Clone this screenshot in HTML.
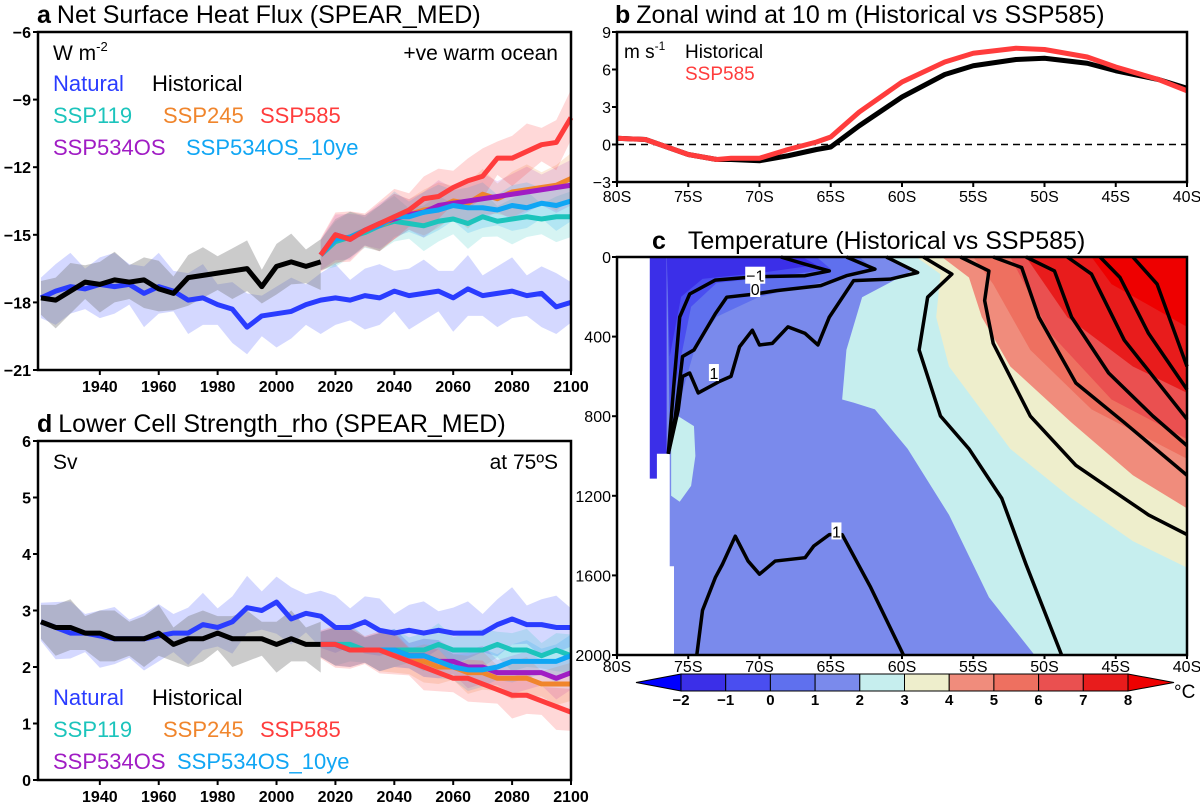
<!DOCTYPE html>
<html><head><meta charset="utf-8"><style>
html,body{margin:0;padding:0;background:#fff;}
svg{display:block;font-family:"Liberation Sans",Arial,sans-serif;}
</style></head><body>
<svg id="fig" width="1200" height="802" viewBox="0 0 1200 802" xmlns="http://www.w3.org/2000/svg">
<g id="pa"></g>
<g id="pd"></g>
<g id="pb"></g>
<g id="pc"></g>
</svg>
<script>
// ---------- Panel a data (every 5 years) ----------
const aNatural=[-17.8,-17.5,-17.3,-17.4,-17.2,-17.3,-17.2,-17.6,-17.3,-17.5,-17.9,-17.8,-18.1,-18.3,-19.1,-18.6,-18.5,-18.4,-18.1,-17.9,-17.8,-17.9,-17.7,-17.8,-17.5,-17.7,-17.6,-17.5,-17.8,-17.4,-17.7,-17.6,-17.5,-17.7,-17.6,-18.2,-18.0];
const aHist=[-17.8,-17.9,-17.5,-17.1,-17.2,-17.0,-17.1,-17.0,-17.4,-17.6,-16.9,-16.8,-16.7,-16.6,-16.5,-17.3,-16.4,-16.2,-16.4,-16.2];
const aSSP585=[-15.9,-15.0,-15.2,-14.8,-14.5,-14.2,-13.9,-13.4,-13.3,-12.9,-12.6,-12.4,-11.6,-11.6,-11.3,-11.0,-10.9,-9.8];
const aSSP245=[-15.9,-15.2,-15.1,-14.8,-14.6,-14.3,-14.1,-13.9,-13.8,-13.5,-13.6,-13.2,-13.4,-13.1,-13.0,-12.9,-12.8,-12.5];
const aSSP119=[-15.9,-15.3,-15.1,-14.9,-14.6,-14.4,-14.5,-14.6,-14.4,-14.3,-14.5,-14.2,-14.4,-14.3,-14.2,-14.3,-14.2,-14.2];
const aSSP534=[-15.9,-15.0,-15.2,-14.8,-14.5,-14.3,-14.1,-14.0,-13.7,-13.6,-13.5,-13.4,-13.3,-13.2,-13.1,-13.0,-12.9,-12.8];
const aSSP534_10=[-15.9,-15.2,-15.1,-14.8,-14.6,-14.2,-14.2,-14.0,-13.9,-13.7,-13.8,-13.8,-13.9,-13.7,-13.8,-13.6,-13.7,-13.5];
const aYTicks=[-21,-18,-15,-12,-9,-6];
// ---------- Panel d data ----------
const dNatural=[2.8,2.7,2.6,2.6,2.55,2.5,2.5,2.5,2.55,2.6,2.6,2.75,2.7,2.8,3.05,3.0,3.15,2.85,2.95,2.9,2.7,2.7,2.8,2.65,2.6,2.65,2.6,2.65,2.6,2.6,2.6,2.75,2.85,2.75,2.75,2.7,2.7];
const dHist=[2.8,2.7,2.7,2.6,2.6,2.5,2.5,2.5,2.6,2.4,2.5,2.5,2.6,2.5,2.5,2.5,2.4,2.5,2.4,2.4];
const dSSP585=[2.4,2.4,2.3,2.3,2.3,2.2,2.1,2.0,1.9,1.8,1.8,1.7,1.6,1.5,1.5,1.4,1.3,1.2];
const dSSP245=[2.4,2.4,2.3,2.3,2.3,2.2,2.1,2.1,2.0,2.0,1.9,1.9,1.8,1.8,1.8,1.7,1.7,1.7];
const dSSP119=[2.4,2.4,2.4,2.3,2.3,2.3,2.3,2.3,2.4,2.3,2.3,2.3,2.4,2.3,2.3,2.2,2.3,2.2];
const dSSP534=[2.4,2.4,2.3,2.3,2.3,2.3,2.2,2.2,2.1,2.1,2.0,2.0,1.9,1.9,1.9,1.9,1.8,1.9];
const dSSP534_10=[2.4,2.4,2.3,2.3,2.3,2.3,2.2,2.2,2.1,2.0,1.95,1.95,2.0,2.1,2.1,2.1,2.1,2.2];
const dYTicks=[0,1,2,3,4,5,6];
const timeTicks=[1940,1960,1980,2000,2020,2040,2060,2080,2100];
// ---------- Panel b data ----------
const bLat=[-80,-78,-77,-75,-73,-72,-70,-68,-66,-65,-63,-60,-57,-55,-52,-50,-47,-45,-42,-40];
const bHist=[0.5,0.4,0.0,-0.8,-1.2,-1.2,-1.3,-0.9,-0.4,-0.2,1.5,3.8,5.6,6.3,6.8,6.9,6.5,5.9,5.2,4.5];
const bSSP585=[0.5,0.4,0.0,-0.8,-1.2,-1.1,-1.1,-0.4,0.2,0.6,2.6,5.0,6.6,7.3,7.7,7.6,7.0,6.2,5.2,4.3];
const bYTicks=[-3,0,3,6,9];
const latTicks=[-80,-75,-70,-65,-60,-55,-50,-45,-40];
// ---------- Panel c data ----------
const cLevels=[-2,-1,0,1,2,3,4,5,6,7,8];
const cColors=['#3b2fe8','#4a4ef0','#5f70ee','#7a8aec','#c6eeee','#eeeecc','#f08c7c','#ee7060','#ea5050','#e81c1c','#ee0000'];
const fill3=[[-61.1,0],[-59.3,70],[-62.8,202],[-63.9,467],[-64.2,716],[-63.4,732],[-61.9,766],[-59.6,964],[-56.7,1296],[-53.9,1710],[-50.7,2000]];
const fill4=[[-59,0],[-57.3,86],[-57.6,302],[-56.7,550],[-52.4,964],[-48.1,1213],[-43.8,1428],[-40,1561]];
const fill5=[[-57.2,0],[-55.3,103],[-54.4,302],[-52.4,550],[-48.1,832],[-43.8,1097],[-40,1263]];
const fill6=[[-55,0],[-53.6,136],[-51,467],[-46.7,766],[-40,1014]];
const fill7=[[-52.4,0],[-49.6,384],[-45.3,716],[-40,915]];
const fill8=[[-51.3,0],[-48.4,302],[-43.8,550],[-40,683]];
const fill9=[[-46.7,0],[-45.3,136],[-40,351]];
const coldFill1=[[-76.5,0],[-63,0],[-62,60],[-64,100],[-67,150],[-70,200],[-73,300],[-74.5,450],[-75.5,700],[-76.3,900]];
const coldFill0=[[-76.5,0],[-66,0],[-65,60],[-69,100],[-73,130],[-74.8,250],[-75.5,500],[-76.3,800]];
const coldFillM1=[[-76.5,0],[-67,0],[-66,40],[-70,80],[-74,110],[-75.5,200],[-76.3,500]];
const contM1=[[-68.5,0],[-66.8,36],[-65.1,70],[-66.8,94],[-70.3,99],[-73.1,116],[-74.9,186],[-75.6,302],[-76,633],[-76.4,989]];
const cont0=[[-63.9,0],[-61.9,61],[-63.9,94],[-65.7,144],[-68.8,169],[-70.3,186],[-72.3,202],[-73.1,285],[-74.6,467],[-75.4,500],[-75.9,799],[-76.4,989]];
const cont1a=[[-61.1,0],[-58.9,78],[-60.8,111],[-63.4,119],[-65.1,302],[-65.9,442],[-66.8,384],[-68,351],[-69.1,434],[-70,442],[-70.5,368],[-71.4,451],[-72,600],[-72.8,625],[-74.3,683],[-74.9,583],[-75.4,600],[-75.7,766],[-76.4,989]];
const cont1b=[[-74.4,2000],[-74,1776],[-73.1,1611],[-72.6,1544],[-71.7,1403],[-70.8,1528],[-70,1594],[-68.9,1528],[-66.8,1511],[-66.2,1453],[-65.1,1395],[-64.2,1395],[-62.2,1660],[-59.9,2000]];
const cont2=[[-58.5,0],[-56.5,86],[-58.2,202],[-58.8,467],[-57.3,799],[-55.3,964],[-53,1213],[-51.3,1544],[-48.8,2000]];
const cont3=[[-55.9,0],[-53.9,70],[-54.2,219],[-53.6,434],[-51,799],[-47.8,1047],[-44.4,1213],[-42.7,1296],[-40,1395]];
const cont4=[[-53.6,0],[-51.6,53],[-50.4,302],[-47.8,633],[-44.4,832],[-40,1097]];
const cont5=[[-51.3,0],[-49.3,70],[-48.1,302],[-45.5,583],[-42.4,799],[-40,948]];
const cont6=[[-48.4,0],[-46.7,86],[-44.4,418],[-40,815]];
const cont7=[[-46.1,0],[-44.7,103],[-42.7,384],[-40,666]];
const cont8=[[-43.8,0],[-42.1,136],[-40,550]];
const cLabels=[['−1',-70.3,94],['0',-70.3,161],['1',-73.2,583],['1',-64.6,1379]];
const depthTicks=[0,400,800,1200,1600,2000];

const NS='http://www.w3.org/2000/svg';
function mk(parent,tag,attrs,text){const e=document.createElementNS(NS,tag);for(const k in attrs)e.setAttribute(k,attrs[k]);if(text!==undefined)e.textContent=text;parent.appendChild(e);return e;}
function lin(d0,d1,r0,r1){return v=>r0+(v-d0)/(d1-d0)*(r1-r0);}
const C={nat:'#2a3cff',hist:'#000',s119:'#1cc4bc',s245:'#f0852c',s585:'#ff3c3c',s534:'#a01cc4',s10:'#10a6f4'};

function timePanel(g,box,ymin,ymax,yticks,series,label,title,unitL,unitR,legendY){
  const X=lin(1919,2100,box.x0,box.x1),Y=lin(ymin,ymax,box.y1,box.y0);
  series.forEach(s=>{
    let up='',lo=[];
    s.v.forEach((v,i)=>{const yr=Math.min(s.start+i*5,2100);up+=X(yr)+','+Y(v+s.sp*(1+0.25*((i*7)%3-1)))+' ';lo.push(X(yr)+','+Y(v-s.sp*(1+0.25*((i*5)%3-1))));});
    const p=mk(g,'polygon',{points:up+lo.reverse().join(' '),fill:s.c,'fill-opacity':s.op});
    
    
  });
  series.forEach(s=>{
    const pts=s.v.map((v,i)=>X(Math.min(s.start+i*5,2100))+','+Y(v)).join(' ');
    const l=mk(g,'polyline',{points:pts,fill:'none',stroke:s.lc||s.c,'stroke-width':5,'stroke-linejoin':'round'});
    
    
  });
  mk(g,'rect',{x:box.x0,y:box.y0,width:box.x1-box.x0,height:box.y1-box.y0,fill:'none',stroke:'#000','stroke-width':2.5});
  yticks.forEach(t=>{mk(g,'line',{x1:box.x0-5,x2:box.x0,y1:Y(t),y2:Y(t),stroke:'#000','stroke-width':2});
    const tx=mk(g,'text',{x:box.x0-7,y:Y(t)+6,'text-anchor':'end','font-size':16,'font-weight':'bold'},String(t).replace('-','−'));
    });
  timeTicks.forEach(t=>{mk(g,'line',{x1:X(t),x2:X(t),y1:box.y1,y2:box.y1+5,stroke:'#000','stroke-width':2});
    const tx=mk(g,'text',{x:X(t),y:box.y1+22,'text-anchor':'middle','font-size':16,'font-weight':'bold'},t);
    });
  const tl=mk(g,'text',{x:box.x0-1,y:box.y0-9,'font-size':25},'');
  
  mk(tl,'tspan',{'font-weight':'bold'},label);mk(tl,'tspan',{dx:6},title);
  const u=mk(g,'text',{x:box.x0+15,y:box.y0+28,'font-size':21},unitL[0]);
  if(unitL[1])mk(u,'tspan',{dy:-9,'font-size':13},unitL[1]);
  
  const r=mk(g,'text',{x:box.x1-13,y:box.y0+28,'font-size':21,'text-anchor':'end'},unitR);
  
  const leg=[[['Natural',C.nat,0],['Historical',C.hist,99]],[['SSP119',C.s119,0],['SSP245',C.s245,110],['SSP585',C.s585,207]],[['SSP534OS',C.s534,0],['SSP534OS_10ye',C.s10,label==='a'?133:124]]];
  leg.forEach((row,ri)=>row.forEach(e=>{const t=mk(g,'text',{x:box.x0+15+e[2],y:legendY+ri*32,'font-size':22,fill:e[1]},e[0]);
    }));
}
function seriesSet(nat,hist,s119,s245,s585,s534,s10,spN,spH,spS){
  return [
    {n:'natural',v:nat,start:1920,c:C.nat,sp:spN,op:0.2},
    {n:'historical',v:hist,start:1920,c:'#777',lc:'#000',sp:spH,op:0.38},
    {n:'ssp119',v:s119,start:2015,c:C.s119,sp:spS,op:0.18},
    {n:'ssp245',v:s245,start:2015,c:C.s245,sp:spS,op:0.18},
    {n:'ssp534os',v:s534,start:2015,c:C.s534,sp:spS,op:0.15},
    {n:'ssp534os-10ye',v:s10,start:2015,c:C.s10,sp:spS,op:0.18},
    {n:'ssp585',v:s585,start:2015,c:C.s585,sp:spS*1.1,op:0.2}
  ];
}
timePanel(document.getElementById('pa'),{x0:38,x1:571,y0:32,y1:370},-21,-6,aYTicks,seriesSet(aNatural,aHist,aSSP119,aSSP245,aSSP585,aSSP534,aSSP534_10,1.2,1.0,0.9),'a','Net Surface Heat Flux (SPEAR_MED)',['W m','-2'],'+ve warm ocean',91);
timePanel(document.getElementById('pd'),{x0:38,x1:571,y0:441,y1:780},0,6,dYTicks,seriesSet(dNatural,dHist,dSSP119,dSSP245,dSSP585,dSSP534,dSSP534_10,0.45,0.4,0.3),'d','Lower Cell Strength_rho (SPEAR_MED)',['Sv',''],'at 75ºS',705);

// ---------- Panel b ----------
(function(){
  const g=document.getElementById('pb');const box={x0:617,x1:1187,y0:32,y1:182};
  const X=lin(-80,-40,box.x0,box.x1),Y=lin(-3,9,box.y1,box.y0);
  mk(g,'line',{x1:box.x0,x2:box.x1,y1:Y(0),y2:Y(0),stroke:'#000','stroke-width':1.5,'stroke-dasharray':'7,5'});
  [[bHist,'#000','historical-wind-line'],[bSSP585,'#ff3c3c','ssp585-wind-line']].forEach(s=>{
    const l=mk(g,'polyline',{points:bLat.map((la,i)=>X(la)+','+Y(s[0][i])).join(' '),fill:'none',stroke:s[1],'stroke-width':5,'stroke-linejoin':'round'});
    
  });
  mk(g,'rect',{x:box.x0,y:box.y0,width:box.x1-box.x0,height:box.y1-box.y0,fill:'none',stroke:'#000','stroke-width':2.5});
  bYTicks.forEach(t=>{mk(g,'line',{x1:box.x0-5,x2:box.x0,y1:Y(t),y2:Y(t),stroke:'#000','stroke-width':2});
    const tx=mk(g,'text',{x:box.x0-6,y:Y(t)+6,'text-anchor':'end','font-size':16},String(t).replace('-','−'));
    });
  latTicks.forEach(t=>{mk(g,'line',{x1:X(t),x2:X(t),y1:box.y1,y2:box.y1+5,stroke:'#000','stroke-width':2});
    const tx=mk(g,'text',{x:X(t),y:box.y1+20,'text-anchor':'middle','font-size':16},(-t)+'S');
    });
  const tl=mk(g,'text',{x:box.x0-2,y:box.y0-9,'font-size':25},'');
  
  mk(tl,'tspan',{'font-weight':'bold'},'b');mk(tl,'tspan',{dx:6},'Zonal wind at 10 m (Historical vs SSP585)');
  const u=mk(g,'text',{x:624,y:58,'font-size':19},'m s');mk(u,'tspan',{dy:-8,'font-size':12},'-1');
  
  let t=mk(g,'text',{x:685,y:58,'font-size':19},'Historical');
  t=mk(g,'text',{x:685,y:80,'font-size':19,fill:'#ff3c3c'},'SSP585');
})();

// ---------- Panel c ----------
(function(){
  const g=document.getElementById('pc');const box={x0:617,x1:1187,y0:257,y1:655};
  const X=lin(-80,-40,box.x0,box.x1),Y=lin(0,2000,box.y0,box.y1);
  const P=a=>a.map(p=>X(p[0])+','+Y(p[1])).join(' ');
  function band(pts,col,name){
    const a=pts.slice();const last=a[a.length-1];
    if(last[1]>=2000)a.push([-40,2000]);a.push([-40,0]);
    const p=mk(g,'polygon',{points:P(a),fill:col});
  }
  let p=mk(g,'polygon',{points:P([[-77.7,0],[-76.5,0],[-76.5,989],[-77.2,989],[-77.2,1114],[-77.7,1114]]),fill:cColors[0]});
  
  p=mk(g,'polygon',{points:P([[-76.5,0],[-40,0],[-40,2000],[-76,2000],[-76,1554],[-76.3,1554],[-76.3,989],[-76.5,989]]),fill:cColors[3]});
  
  p=mk(g,'polygon',{points:P([[-75.7,800],[-74.6,850],[-74.5,1000],[-74.8,1150],[-75.6,1230],[-76.2,1200],[-76.2,900]]),fill:cColors[4]});
  
  band(fill3,cColors[4],'band-2-3');band(fill4,cColors[5],'band-3-4');band(fill5,cColors[6],'band-4-5');
  band(fill6,cColors[7],'band-5-6');band(fill7,cColors[8],'band-6-7');band(fill8,cColors[9],'band-7-8');band(fill9,cColors[10],'band-above-8');
  [[coldFill1,cColors[2],'band-0-1'],[coldFill0,cColors[1],'band-minus1-0'],[coldFillM1,cColors[0],'band-minus2-minus1']].forEach(b=>{
    const q=mk(g,'polygon',{points:P(b[0]),fill:b[1]});});
  [contM1,cont0,cont1a,cont1b,cont2,cont3,cont4,cont5,cont6,cont7,cont8].forEach(c=>{
    const l=mk(g,'polyline',{points:P(c),fill:'none',stroke:'#000','stroke-width':3.5,'stroke-linejoin':'round'});
    });
  cLabels.forEach(lb=>{const x=X(lb[1]),y=Y(lb[2]);
    mk(g,'rect',{x:x-(lb[0].length>1?10:5),y:y-9,width:lb[0].length>1?20:10,height:17,fill:'#fff'});
    const t=mk(g,'text',{x:x,y:y+6,'text-anchor':'middle','font-size':16},lb[0]);
    });
  mk(g,'rect',{x:box.x0,y:box.y0,width:box.x1-box.x0,height:box.y1-box.y0,fill:'none',stroke:'#000','stroke-width':2.5});
  depthTicks.forEach(t=>{mk(g,'line',{x1:box.x0-5,x2:box.x0,y1:Y(t),y2:Y(t),stroke:'#000','stroke-width':2});
    const tx=mk(g,'text',{x:box.x0-6,y:Y(t)+6,'text-anchor':'end','font-size':16},t);
    });
  latTicks.forEach(t=>{mk(g,'line',{x1:X(t),x2:X(t),y1:box.y1,y2:box.y1+4,stroke:'#000','stroke-width':2});
    const tx=mk(g,'text',{x:X(t),y:box.y1+17,'text-anchor':'middle','font-size':16},(-t)+'S');
    });
  const tl=mk(g,'text',{x:652,y:249,'font-size':25},'');
  
  mk(tl,'tspan',{'font-weight':'bold'},'c');mk(tl,'tspan',{dx:22},'Temperature (Historical vs SSP585)');
  // colorbar
  const cb={x0:681,x1:1128,y0:674,y1:691};const CX=lin(-2,8,cb.x0,cb.x1);
  let t=mk(g,'polygon',{points:`636,${(cb.y0+cb.y1)/2} ${cb.x0},${cb.y0} ${cb.x0},${cb.y1}`,fill:'#0000ff',stroke:'#000','stroke-width':1});
  
  for(let i=0;i<10;i++){const r=mk(g,'rect',{x:CX(cLevels[i]),y:cb.y0,width:CX(cLevels[i+1])-CX(cLevels[i]),height:cb.y1-cb.y0,fill:cColors[i],stroke:'#000','stroke-width':1});
    }
  t=mk(g,'polygon',{points:`${cb.x1},${cb.y0} 1174,${(cb.y0+cb.y1)/2} ${cb.x1},${cb.y1}`,fill:cColors[10],stroke:'#000','stroke-width':1});
  
  cLevels.forEach(l=>{const tx=mk(g,'text',{x:CX(l),y:705,'text-anchor':'middle','font-size':15,'font-weight':'bold'},String(l).replace('-','−'));
    });
  t=mk(g,'text',{x:1174,y:698,'font-size':19},'°C');
})();
</script>
</body></html>
